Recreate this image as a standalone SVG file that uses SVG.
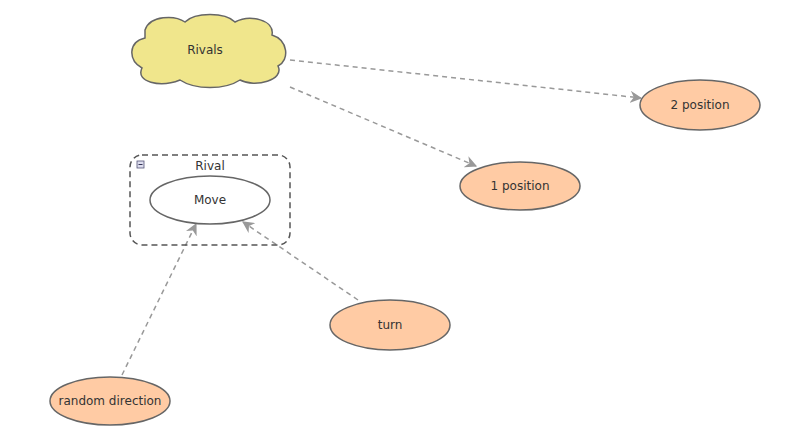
<svg xmlns="http://www.w3.org/2000/svg" width="800" height="445" viewBox="0 0 800 445">
<style>
text{font-family:"Comic Sans MS","DejaVu Sans",sans-serif;font-size:12px;fill:#333;text-anchor:middle;dominant-baseline:central}
.n{fill:#ffcba4;stroke:#666;stroke-width:1.5}
.c{stroke:#999;stroke-width:1.5;stroke-dasharray:5,4;fill:none;marker-end:url(#a)}
</style>
<defs><marker id="a" viewBox="0 0 10 10" refX="9" refY="5" markerWidth="8" markerHeight="8" orient="auto"><path d="M0,0 L10,5 L0,10 L3,5 Z" fill="#999"/></marker></defs>
<rect width="800" height="445" fill="#fff"/>
<g id="connectors">
<line class="c" x1="290" y1="60" x2="641" y2="98"/>
<line class="c" x1="290" y1="87" x2="476" y2="166"/>
<line class="c" x1="122" y1="375" x2="196" y2="224"/>
<line class="c" x1="358" y1="300" x2="243" y2="222"/>
</g>
<g id="rivals">
<path d="M145,30 C150,15 175,15 185,22 C195,12 225,12 235,22 C250,14 275,20 272,35 C288,40 290,60 278,66 C285,80 255,88 240,80 C225,90 195,90 180,80 C160,88 135,82 142,68 C128,60 128,42 145,38 Z" fill="#f0e68c" stroke="#666" stroke-width="1.5"/>
<text x="205" y="50">Rivals</text>
</g>
<g id="rival">
<rect x="130" y="155" width="160" height="90" rx="12" fill="none" stroke="#555" stroke-width="1.5" stroke-dasharray="6,4"/>
<rect x="137" y="161" width="7" height="7" fill="#dde" stroke="#557" stroke-width="0.8"/>
<line x1="138.5" y1="164.5" x2="142.5" y2="164.5" stroke="#335"/>
<text x="210" y="166">Rival</text>
</g>
<g id="move"><ellipse cx="210" cy="200" rx="60" ry="24" fill="#fff" stroke="#666" stroke-width="1.5"/><text x="210" y="200">Move</text></g>
<g id="p2"><ellipse class="n" cx="700" cy="105" rx="60" ry="25"/><text x="700" y="105">2 position</text></g>
<g id="p1"><ellipse class="n" cx="520" cy="186" rx="60" ry="24"/><text x="520" y="186">1 position</text></g>
<g id="turn"><ellipse class="n" cx="390" cy="325" rx="60" ry="25"/><text x="390" y="325">turn</text></g>
<g id="random"><ellipse class="n" cx="110" cy="401" rx="60" ry="24"/><text x="110" y="401">random direction</text></g>
</svg>
